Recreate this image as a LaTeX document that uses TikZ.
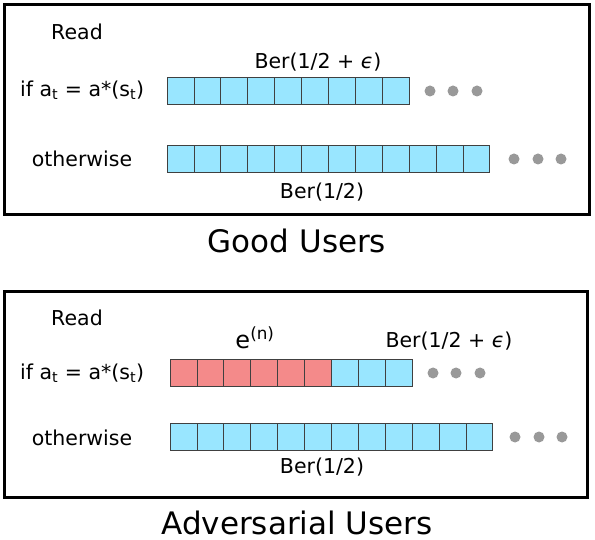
\documentclass[tikz,border=0pt]{standalone}
\usepackage{fontspec}
\setmainfont{DejaVu Sans}
\usepackage{tikz}
\usetikzlibrary{positioning}
\definecolor{cellcyan}{RGB}{153,230,255}
\definecolor{cellred}{RGB}{244,138,138}
\definecolor{dotgray}{RGB}{153,153,153}

\begin{document}
\begin{tikzpicture}[x=1pt, y=-1pt,
		frame/.style={draw=black, line width=3pt},
		cell/.style={draw=black!75, line width=0.7pt},
		lbl/.style={font=\fontsize{20.5}{24}\selectfont, inner sep=0pt},
		title/.style={font=\fontsize{31}{36}\selectfont, anchor=base, inner sep=0pt},
		moredot/.style={fill=dotgray}
	]
	\useasboundingbox (0,0) rectangle (595,540);

	% Good users
	\draw[frame] (4.5,4.5) rectangle (589.5,215);
	\node[lbl] (readG) at (77,32) {Read};
	\node[lbl, anchor=west] (ifG) at (20,90) {if a\textsubscript{t} = a*(s\textsubscript{t})};
	\foreach \i in {0,...,8}
		\draw[cell, fill=cellcyan] (167+\i*26.9,77) rectangle ++(26.9,27);
	\foreach \x in {430,453,477}
		\fill[moredot] (\x,91) circle (5.5pt);
	\node[lbl] (berG) at (318,62) {Ber(1/2 + \textit{ϵ})};
	\node[lbl] (otherG) at (82,159) {otherwise};
	\foreach \i in {0,...,11}
		\draw[cell, fill=cellcyan] (167+\i*26.9,145) rectangle ++(26.9,27);
	\foreach \x in {514,538,561}
		\fill[moredot] (\x,159) circle (5.5pt);
	\node[lbl] (halfG) at (322,192) {Ber(1/2)};
	\node[title] (good) at (297,253) {Good Users};

	% Adversarial users
	\draw[frame] (4.5,292) rectangle (587,497);
	\node[lbl] (readA) at (77,318) {Read};
	\node[lbl, anchor=west] (ifA) at (20,373) {if a\textsubscript{t} = a*(s\textsubscript{t})};
	\foreach \i in {0,...,5}
		\draw[cell, fill=cellred] (170+\i*26.9,359) rectangle ++(26.9,27);
	\foreach \i in {6,...,8}
		\draw[cell, fill=cellcyan] (170+\i*26.9,359) rectangle ++(26.9,27);
	\foreach \x in {433,456,480}
		\fill[moredot] (\x,373) circle (5.5pt);
	\node[lbl] (err) at (255,338) {\fontsize{24}{26}\selectfont e\textsuperscript{(n)}};
	\node[lbl] (berA) at (449,341) {Ber(1/2 + \textit{ϵ})};
	\node[lbl] (otherA) at (82,438) {otherwise};
	\foreach \i in {0,...,11}
		\draw[cell, fill=cellcyan] (170+\i*26.9,423) rectangle ++(26.9,27);
	\foreach \x in {515,539,562}
		\fill[moredot] (\x,437) circle (5.5pt);
	\node[lbl] (halfA) at (322,467) {Ber(1/2)};
	\node[title] (adv) at (297,534) {Adversarial Users};
\end{tikzpicture}
\end{document}
